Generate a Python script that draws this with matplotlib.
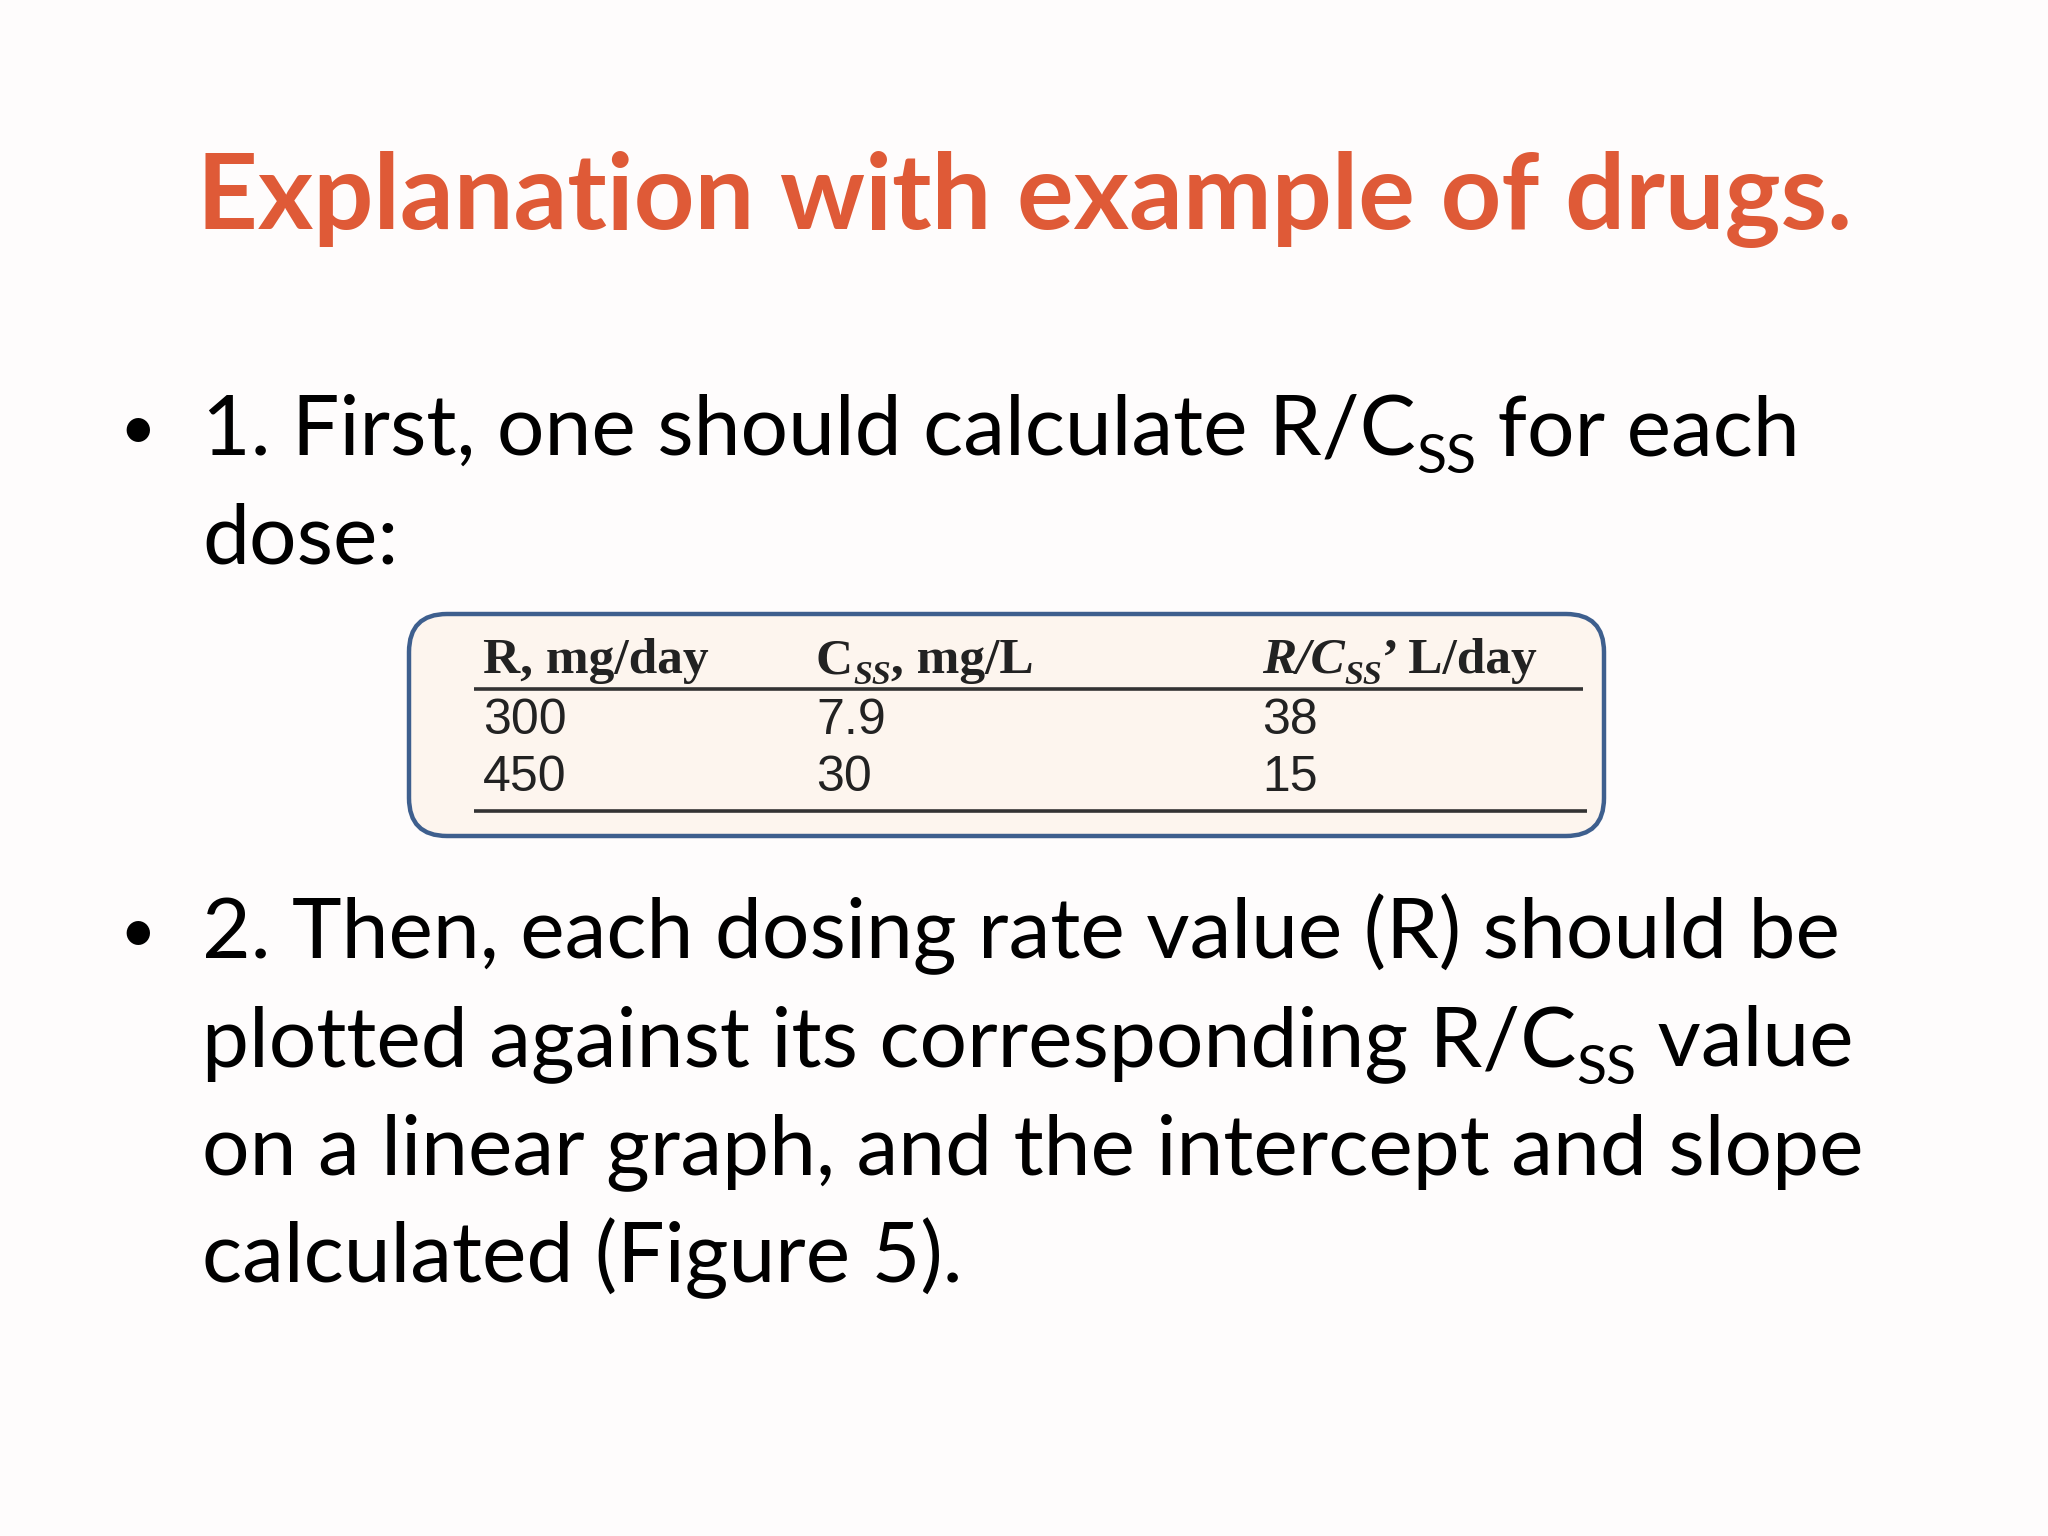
import matplotlib
matplotlib.use("Agg")
import matplotlib.pyplot as plt
from matplotlib.patches import FancyBboxPatch

# slide content
title = "Explanation with example of drugs."
bullet1 = [[("1. First, one should calculate R/C", "n"), ("SS", "s"), (" for each", "n")],
           [("dose:", "n")]]
bullet2 = [[("2. Then, each dosing rate value (R) should be", "n")],
           [("plotted against its corresponding R/C", "n"), ("SS", "s"), (" value", "n")],
           [("on a linear graph, and the intercept and slope", "n")],
           [("calculated (Figure 5).", "n")]]

# table values
col_r = ["300", "450"]
col_css = ["7.9", "30"]
col_ratio = ["38", "15"]

W, H = 2048, 1536
fig = plt.figure(figsize=(W / 100, H / 100), dpi=100, facecolor="#fefcfc")
ax = fig.add_axes([0, 0, 1, 1])
ax.set_xlim(0, W)
ax.set_ylim(H, 0)
ax.axis("off")
rend = fig.canvas.get_renderer()

BODY = "Lato"


def width_of(t):
    return t.get_window_extent(renderer=rend).width


def fit_size(s, family, weight, target):
    t = ax.text(0, 0, s, fontsize=50, family=family, weight=weight)
    w = width_of(t)
    t.remove()
    return 50 * target / w


def runs(x, y, parts, size, family=BODY, color="black", weight="normal", style="normal",
         sub_style=None):
    for s, kind in parts:
        if kind == "s":
            t = ax.text(x, y + size * 0.30, s, fontsize=size * 0.66, family=family,
                        color=color, weight=weight, style=sub_style or style, va="baseline")
        else:
            t = ax.text(x, y, s, fontsize=size, family=family, color=color,
                        weight=weight, style=style, va="baseline")
        x += width_of(t)
    return x


# title
tsize = fit_size(title, BODY, "bold", 1659)
ax.text(1025, 229, title, fontsize=tsize, family=BODY, weight="bold",
        color="#df5a37", ha="center", va="baseline")

# body text
bsize = fit_size("on a linear graph, and the intercept and slope", BODY, "normal", 1660)
x0 = 202
lh = 108
for i, line in enumerate(bullet1):
    runs(x0, 455 + i * lh, line, bsize)
ax.text(138, 449, "\u2022", fontsize=bsize * 0.75, family=BODY, ha="center", va="baseline")

for i, line in enumerate(bullet2):
    runs(x0, 958 + i * lh, line, bsize)
ax.text(138, 952, "\u2022", fontsize=bsize * 0.75, family=BODY, ha="center", va="baseline")

# table box
box = FancyBboxPatch((409, 614), 1195, 222, boxstyle="round,pad=0,rounding_size=38",
                     facecolor="#fdf5ee", edgecolor="#3e5f8e", lw=3.2)
ax.add_patch(box)

hsize = 37
serif = "Liberation Serif"
runs(483, 673, [("R, mg/day", "n")], hsize, family=serif, weight="bold", color="#222222")
runs(816, 673, [("C", "n"), ("SS", "s"), (", mg/L", "n")], hsize, family=serif,
     weight="bold", color="#222222", sub_style="italic")
xx = runs(1262, 673, [("R/C", "n"), ("SS", "s")], hsize, family=serif, weight="bold",
          style="italic", color="#222222")
runs(xx, 673, [("\u2019 L/day", "n")], hsize, family=serif, weight="bold", color="#222222")

ax.plot([474, 1583], [689, 689], color="#333333", lw=2.6, solid_capstyle="butt")
ax.plot([474, 1587], [811, 811], color="#333333", lw=2.6, solid_capstyle="butt")

nsize = 36
cols = [(483, col_r), (816, col_css), (1262, col_ratio)]
row_y = [734, 791]
for cx, vals in cols:
    for ry, v in zip(row_y, vals):
        ax.text(cx, ry, v, fontsize=nsize, family="Liberation Sans", color="#222222",
                va="baseline")

fig.savefig("out.png", dpi=100, facecolor=fig.get_facecolor())
